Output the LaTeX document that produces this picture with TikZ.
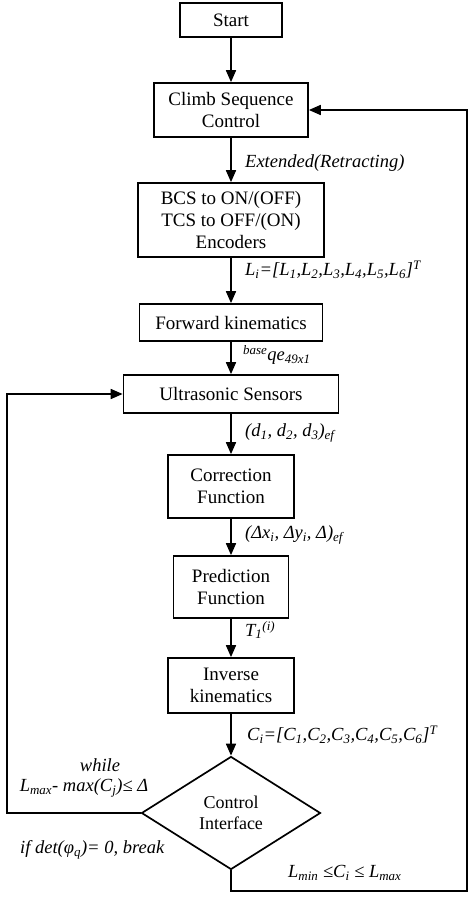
\documentclass[tikz,border=0pt]{standalone}
\usepackage{fontspec}
\setmainfont{Liberation Serif}
\usetikzlibrary{arrows.meta,shapes.geometric}
\tikzset{
  box/.style={draw, line width=1.7pt, inner sep=0pt, align=center, font=\fontsize{19}{22}\selectfont},
  lab/.style={inner sep=0pt, font=\fontsize{18.5}{22}\selectfont\itshape},
  flow/.style={line width=1.7pt, -{Triangle[length=12pt,width=10pt]}},
  line/.style={line width=1.7pt}
}
\begin{document}
\begin{tikzpicture}[x=1pt,y=-1pt]
\useasboundingbox (0,0) rectangle (474,897);
\node[box, minimum width=102pt, minimum height=34pt] (start) at (231,20) {Start};
\node[box, minimum width=154pt, minimum height=54pt] (climb) at (231,110) {Climb Sequence\\Control};
\node[box, minimum width=186pt, minimum height=74pt] (bcs) at (231,220) {BCS to ON/(OFF)\\TCS to OFF/(ON)\\Encoders};
\node[box, minimum width=183pt, minimum height=37pt] (fk) at (231,322.5) {Forward kinematics};
\node[box, minimum width=215pt, minimum height=38pt] (us) at (231,394) {Ultrasonic Sensors};
\node[box, minimum width=126pt, minimum height=63pt] (cf) at (231,486.5) {Correction\\Function};
\node[box, minimum width=115pt, minimum height=62pt] (pf) at (231,587) {Prediction\\Function};
\node[box, minimum width=126pt, minimum height=55pt] (ik) at (231,685.5) {Inverse\\kinematics};
\node[box, diamond, shape aspect=1.6, minimum width=179pt, minimum height=113pt, font=\fontsize{18}{21}\selectfont] (ci) at (231,813) {Control\\Interface};

\coordinate (lfb) at (7,813);
\coordinate (rb) at (231,891);
\coordinate (rc) at (467,891);
\coordinate (rt) at (467,110);

\draw[flow] (start) -- (climb);
\draw[flow] (climb) -- (bcs);
\draw[flow] (bcs) -- (fk);
\draw[flow] (fk) -- (us);
\draw[flow] (us) -- (cf);
\draw[flow] (cf) -- (pf);
\draw[flow] (pf) -- (ik);
\draw[flow] (ik) -- (ci);
\draw[flow] (ci.west) -- (lfb) |- (us.west);
\draw[flow] (ci.south) -- (rb) -- (rc) -- (rt) -- (climb.east);

\node[lab, anchor=west] (l1) at (245,163) {Extended(Retracting)};
\node[lab, anchor=west] (l2) at (245,270) {L\textsubscript{i}=[L\textsubscript{1},L\textsubscript{2},L\textsubscript{3},L\textsubscript{4},L\textsubscript{5},L\textsubscript{6}]\textsuperscript{T}};
\node[lab, anchor=west] (l3) at (243,355) {\textsuperscript{base}qe\textsubscript{49x1}};
\node[lab, anchor=west] (l4) at (245,433) {(d\textsubscript{1}, d\textsubscript{2}, d\textsubscript{3})\textsubscript{ef}};
\node[lab, anchor=west] (l5) at (245,535) {(Δx\textsubscript{i}, Δy\textsubscript{i}, Δ)\textsubscript{ef}};
\node[lab, anchor=west] (l6) at (245,630) {T\textsubscript{1}\textsuperscript{(i)}};
\node[lab, anchor=west] (l7) at (247,735) {C\textsubscript{i}=[C\textsubscript{1},C\textsubscript{2},C\textsubscript{3},C\textsubscript{4},C\textsubscript{5},C\textsubscript{6}]\textsuperscript{T}};
\node[lab] (l8) at (100,765) {while};
\node[lab] (l9) at (84,788) {L\textsubscript{max}- max(C\textsubscript{j})≤ Δ};
\node[lab, anchor=west] (l10) at (20,850) {if det(φ\textsubscript{q})= 0, break};
\node[lab, anchor=west] (l11) at (288,873) {L\textsubscript{min} ≤C\textsubscript{i} ≤ L\textsubscript{max}};
\end{tikzpicture}
\end{document}
